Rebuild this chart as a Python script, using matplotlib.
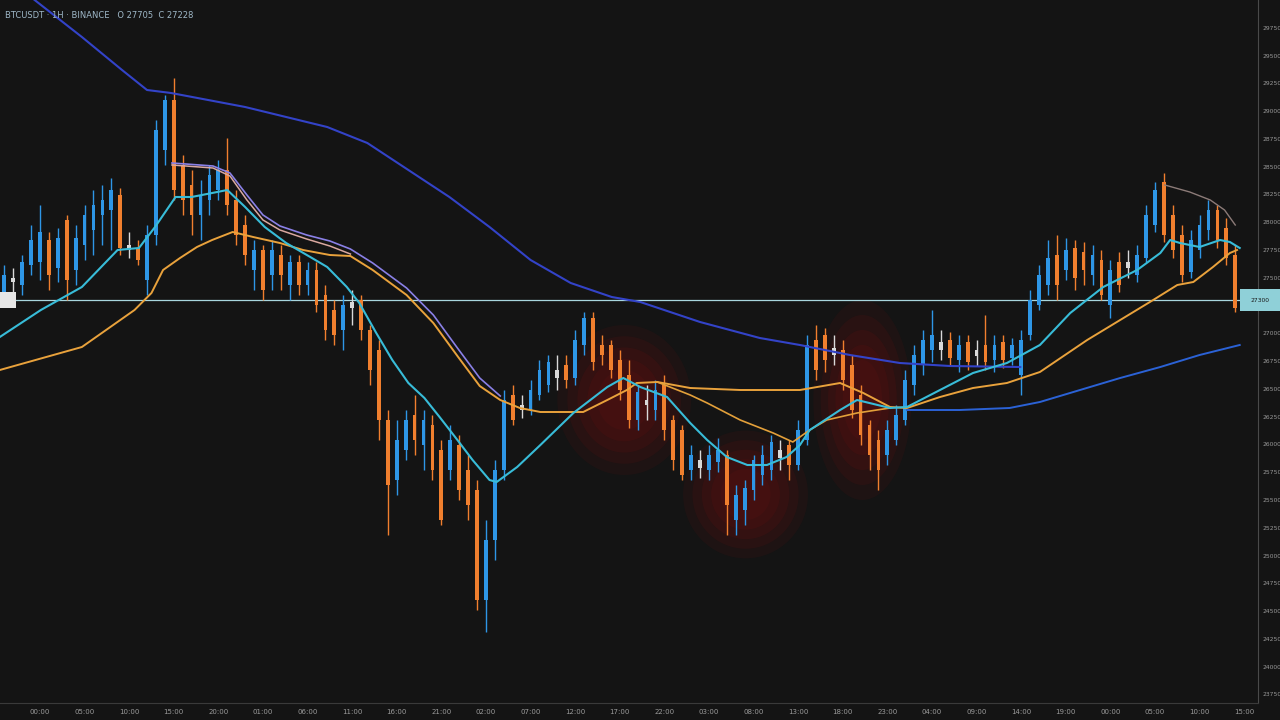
import numpy as np
import matplotlib
matplotlib.use("Agg")
import matplotlib.pyplot as plt
from matplotlib.patches import Ellipse, Rectangle
from matplotlib.transforms import blended_transform_factory

# ---------------- data ----------------
title = "BTCUSDT · 1H · BINANCE   O 27705  C 27228"

opens = [27345, 27462, 27435, 27615, 27642, 27840, 27588, 28020, 27570, 27795,
         27930, 28065, 28110, 28245, 27795, 27768, 27480, 27885, 28650, 29100,
         28515, 28335, 28065, 28200, 28290, 28470, 28200, 27975, 27570, 27750,
         27525, 27705, 27435, 27642, 27435, 27570, 27345, 27210, 27030, 27282,
         27300, 27030, 26850, 26220, 25680, 25950, 26265, 25995, 26175, 25950,
         25770, 25995, 25770, 25590, 24600, 25140, 25770, 26445, 26355, 26310,
         26445, 26535, 26670, 26715, 26598, 26895, 27138, 26895, 26895, 26760,
         26625, 26220, 26400, 26310, 26535, 26220, 26130, 25770, 25860, 25770,
         25842, 25905, 25320, 25410, 25590, 25725, 25770, 25950, 25995, 25815,
         26040, 26940, 26985, 26868, 26850, 26715, 26445, 26175, 26040, 25905,
         26040, 26220, 26535, 26715, 26850, 26922, 26940, 26760, 26922, 26850,
         26895, 26760, 26922, 26778, 26625, 26985, 27255, 27435, 27705, 27570,
         27768, 27732, 27525, 27660, 27255, 27642, 27642, 27525, 27678, 27975,
         28362, 28065, 27885, 27552, 27750, 27930, 28110, 27948, 27705]

closes = [27525, 27498, 27642, 27840, 27912, 27525, 27858, 27480, 27858, 28065,
          28155, 28200, 28290, 27768, 27750, 27660, 27885, 28830, 29100, 28290,
          28200, 28065, 28245, 28425, 28470, 28155, 27885, 27705, 27750, 27390,
          27750, 27525, 27642, 27435, 27570, 27255, 27030, 26985, 27255, 27228,
          27030, 26670, 26220, 25635, 26040, 26220, 26040, 26220, 25770, 25320,
          26040, 25590, 25455, 24600, 25140, 25770, 26400, 26220, 26310, 26490,
          26670, 26742, 26598, 26580, 26940, 27138, 26742, 26805, 26670, 26490,
          26220, 26472, 26355, 26490, 26130, 25860, 25725, 25905, 25788, 25905,
          25950, 25455, 25545, 25608, 25860, 25905, 26022, 25878, 25815, 26130,
          26895, 26670, 26760, 26805, 26580, 26310, 26085, 25905, 25770, 26130,
          26265, 26580, 26805, 26940, 26985, 26850, 26778, 26895, 26742, 26796,
          26742, 26895, 26760, 26895, 26940, 27300, 27525, 27678, 27435, 27750,
          27498, 27570, 27705, 27345, 27570, 27435, 27588, 27705, 28065, 28290,
          27885, 27750, 27525, 27840, 27975, 28110, 27840, 27678, 27228]

highs = [27615, 27588, 27705, 27975, 28155, 27912, 27948, 28065, 27975, 28155,
         28290, 28335, 28398, 28308, 27912, 27840, 27975, 28920, 29145, 29298,
         28605, 28470, 28380, 28515, 28560, 28758, 28290, 28065, 27840, 27795,
         27840, 27795, 27705, 27705, 27642, 27642, 27435, 27300, 27345, 27390,
         27345, 27075, 26940, 26310, 26220, 26310, 26445, 26310, 26265, 26040,
         26175, 26085, 25905, 25680, 25320, 25860, 26490, 26535, 26445, 26580,
         26760, 26805, 26805, 26805, 27030, 27192, 27192, 26985, 26940, 26850,
         26760, 26535, 26535, 26580, 26625, 26265, 26175, 25995, 25950, 25995,
         26058, 25950, 25635, 25680, 25905, 25995, 26085, 26040, 26040, 26220,
         26985, 27075, 27048, 26985, 26940, 26805, 26535, 26220, 26130, 26220,
         26355, 26670, 26895, 27030, 27210, 27030, 27012, 26985, 26985, 26940,
         27165, 26985, 26985, 26958, 27030, 27390, 27615, 27840, 27885, 27858,
         27840, 27822, 27795, 27750, 27660, 27732, 27750, 27795, 28155, 28362,
         28443, 28155, 27975, 27930, 28065, 28200, 28155, 28038, 27795]

lows = [27255, 27300, 27345, 27525, 27480, 27390, 27462, 27300, 27435, 27660,
        27705, 27795, 27750, 27705, 27678, 27615, 27345, 27795, 28515, 28200,
        28065, 27885, 27840, 28065, 28200, 28065, 27795, 27615, 27390, 27300,
        27390, 27390, 27300, 27345, 27345, 27192, 26940, 26895, 26850, 27075,
        26940, 26535, 26040, 25185, 25545, 25860, 25905, 25770, 25680, 25275,
        25680, 25500, 25320, 24510, 24312, 24960, 25680, 26175, 26238, 26265,
        26400, 26472, 26490, 26508, 26535, 26805, 26670, 26715, 26598, 26400,
        26148, 26130, 26220, 26220, 26040, 25770, 25680, 25680, 25698, 25680,
        25752, 25185, 25185, 25275, 25500, 25635, 25680, 25770, 25680, 25770,
        25995, 26580, 26652, 26715, 26490, 26238, 25995, 25770, 25590, 25815,
        25995, 26175, 26445, 26625, 26742, 26760, 26715, 26652, 26670, 26706,
        26670, 26652, 26688, 26715, 26445, 26940, 27210, 27345, 27300, 27480,
        27390, 27435, 27435, 27300, 27138, 27372, 27498, 27462, 27642, 27912,
        27822, 27678, 27462, 27498, 27678, 27840, 27768, 27615, 27192]

# indicator lines: (candle index, price)
fast_ma_x = [-0.5, 4.1, 8.7, 12.7, 15.1, 16.9, 19.2, 21.0, 23.3, 25.0, 27.0, 29.2,
             31.6, 34.3, 36.2, 38.4, 39.8, 41.7, 43.5, 45.3, 47.1, 48.8, 50.8, 52.5,
             54.4, 55.2, 57.5, 60.1, 63.8, 67.6, 69.4, 71.3, 74.3, 76.9, 78.8, 81.0,
             83.3, 85.5, 87.7, 89.2, 90.3, 93.7, 95.6, 99.3, 101.2, 104.9, 108.6,
             112.4, 116.1, 119.5, 123.2, 127.0, 129.6, 130.7, 131.8, 134.0, 136.3,
             137.4, 138.5]
fast_ma_y = [26967, 27210, 27417, 27750, 27768, 27957, 28227, 28227, 28263, 28290,
             28137, 27957, 27813, 27687, 27597, 27417, 27273, 27003, 26760, 26553,
             26418, 26247, 26040, 25860, 25680, 25662, 25797, 25995, 26283, 26517,
             26598, 26517, 26427, 26193, 26040, 25887, 25815, 25815, 25887, 25995,
             26130, 26310, 26400, 26328, 26337, 26490, 26643, 26733, 26895, 27183,
             27417, 27570, 27723, 27840, 27813, 27777, 27840, 27822, 27768]

mid_ma_x = [-0.5, 8.7, 14.6, 16.5, 17.8, 19.7, 21.6, 23.3, 25.6, 27.9, 30.9, 33.5,
            36.5, 38.8, 41.3, 45.1, 48.1, 50.8, 53.3, 55.6, 57.8, 60.1, 64.9, 67.6,
            69.8, 70.9, 73.2, 76.9, 82.5, 89.2, 93.7, 96.3, 99.3, 101.2, 104.9,
            108.6, 112.4, 116.1, 121.4, 125.1, 128.8, 131.5, 133.3, 135.5, 137.4,
            138.2]
mid_ma_y = [26670, 26877, 27210, 27363, 27570, 27678, 27777, 27840, 27912, 27867,
            27813, 27750, 27705, 27696, 27570, 27345, 27093, 26796, 26526, 26400,
            26328, 26292, 26292, 26400, 26490, 26553, 26562, 26508, 26490, 26490,
            26553, 26463, 26337, 26328, 26427, 26508, 26553, 26652, 26940, 27120,
            27300, 27435, 27462, 27597, 27723, 27750]

mid_ma2_x = [73.2, 76.9, 78.8, 82.5, 86.2, 88.4, 90.3, 92.2, 95.6, 99.3]
mid_ma2_y = [26562, 26445, 26373, 26220, 26103, 26022, 26130, 26220, 26283, 26328]

slow_a_x = [18.8, 23.4, 25.3, 27.2, 29.0, 30.9, 33.9, 36.5, 38.8, 41.3, 45.1, 48.1,
            50.8, 53.3, 55.6]
slow_a_y = [28533, 28506, 28443, 28245, 28065, 27966, 27885, 27831, 27759, 27633,
            27408, 27165, 26868, 26598, 26436]
slow_b_x = [18.8, 23.4, 25.3, 27.2, 29.0, 30.9, 33.9, 36.5, 38.8]
slow_b_y = [28515, 28488, 28416, 28200, 28020, 27930, 27849, 27786, 27714]

long_ma_x = [3.4, 8.7, 13.2, 16.0, 18.7, 27.0, 36.2, 40.7, 45.3, 49.9, 54.4, 59.0,
             63.5, 68.1, 71.3, 78.0, 84.7, 89.2, 94.8, 100.4, 106.0, 113.9]
long_ma_y = [30000, 29667, 29370, 29190, 29163, 29037, 28857, 28713, 28470, 28227,
             27957, 27660, 27453, 27327, 27282, 27102, 26958, 26895, 26805, 26733,
             26706, 26697]

base_ma_x = [101.2, 107.1, 112.7, 116.1, 120.6, 125.1, 129.6, 134.0, 138.5]
base_ma_y = [26310, 26310, 26328, 26382, 26490, 26598, 26697, 26805, 26895]

arc_x = [130.1, 132.9, 135.2, 136.8, 138.0]
arc_y = [28335, 28272, 28200, 28110, 27975]

last_price = 27300
last_price_label = "27300"

# glow zones: centre index, centre price, width (candles), height (price)
glow_x = [69.5, 83.1, 96.2]
glow_y = [26400, 25550, 26400]
glow_w = [15.0, 14.0, 11.0]
glow_h = [1350, 1150, 1800]

y_ticks = list(range(23750, 30000, 250))
x_ticks = list(range(4, 140, 5))
x_tick_labels = ["00:00", "05:00", "10:00", "15:00", "20:00", "01:00", "06:00",
                 "11:00", "16:00", "21:00", "02:00", "07:00", "12:00", "17:00",
                 "22:00", "03:00", "08:00", "13:00", "18:00", "23:00", "04:00",
                 "09:00", "14:00", "19:00", "00:00", "05:00", "10:00", "15:00"]

# ---------------- style ----------------
BG = "#141414"
UP = "#2e96e6"
DOWN = "#f07f2e"
DOJI = "#d9d9d9"

fig = plt.figure(figsize=(12.8, 7.2), dpi=100, facecolor=BG)
ax = fig.add_axes([0, 17 / 720, 1258 / 1280, 703 / 720], facecolor=BG)
ax.set_xlim(-0.48, 140.55)
ax.set_ylim(23673, 30000)

# glows
for gx, gy, gw, gh in zip(glow_x, glow_y, glow_w, glow_h):
    for s, a in [(1.0, 0.10), (0.85, 0.12), (0.7, 0.14), (0.55, 0.14), (0.4, 0.12)]:
        ax.add_patch(Ellipse((gx, gy), gw * s, gh * s, facecolor="#7a1010",
                             edgecolor="none", alpha=a, zorder=1))

# reference level
ax.axhline(last_price, color="#a8d6de", lw=0.9, zorder=2)

# candles
o = np.array(opens, float)
c = np.array(closes, float)
h = np.array(highs, float)
l = np.array(lows, float)
idx = np.arange(len(o))
cols = np.where(np.abs(c - o) <= 75, DOJI, np.where(c > o, UP, DOWN))
ax.vlines(idx, l, h, colors=cols, linewidth=1.0, zorder=3)
ax.bar(idx, np.maximum(np.abs(c - o), 30), bottom=np.minimum(o, c), width=0.42,
       color=cols, linewidth=0, zorder=4)

# indicator lines
ax.plot(long_ma_x, long_ma_y, color="#3343c8", lw=1.5, zorder=5)
ax.plot(base_ma_x, base_ma_y, color="#2b62d6", lw=1.4, zorder=5)
ax.plot(slow_b_x, slow_b_y, color="#d9a8a0", lw=1.1, zorder=5)
ax.plot(slow_a_x, slow_a_y, color="#8a80e6", lw=1.2, zorder=5)
ax.plot(mid_ma2_x, mid_ma2_y, color="#e3a03a", lw=1.2, zorder=5)
ax.plot(mid_ma_x, mid_ma_y, color="#e9a23c", lw=1.4, zorder=5)
ax.plot(fast_ma_x, fast_ma_y, color="#38bcd8", lw=1.5, zorder=6)
ax.plot(arc_x, arc_y, color="#8c7b78", lw=1.0, zorder=5)

# axes styling
for s in ["top", "left"]:
    ax.spines[s].set_visible(False)
ax.spines["right"].set_color("#4a4a4a")
ax.spines["bottom"].set_color("#3a3a3a")
ax.yaxis.tick_right()
ax.set_yticks(y_ticks)
ax.set_yticklabels([str(v) for v in y_ticks])
ax.set_xticks(x_ticks)
ax.set_xticklabels(x_tick_labels)
ax.tick_params(axis="y", length=0, pad=3, labelsize=4.3, labelcolor="#9a9a9a")
ax.tick_params(axis="x", length=0, pad=4, labelsize=5, labelcolor="#9a9a9a")

# price markers
tr = blended_transform_factory(ax.transAxes, ax.transData)
ax.add_patch(Rectangle((1240 / 1258, last_price - 95), 0.035, 190, transform=tr,
                       facecolor="#8fd0d8", edgecolor="none", clip_on=False, zorder=7))
ax.text(1260 / 1258, last_price, last_price_label, transform=tr, fontsize=4.3,
        color="#1a1a1a", ha="center", va="center", zorder=8, clip_on=False)
ax.add_patch(Rectangle((0, last_price - 72), 16 / 1258, 140, transform=tr,
                       facecolor="#e6e6e6", edgecolor="none", zorder=7))

fig.text(5 / 1280, 1 - 16 / 720, title, fontsize=6, color="#9fb8c8",
         ha="left", va="center")

fig.savefig("out.png", dpi=100, facecolor=BG)
